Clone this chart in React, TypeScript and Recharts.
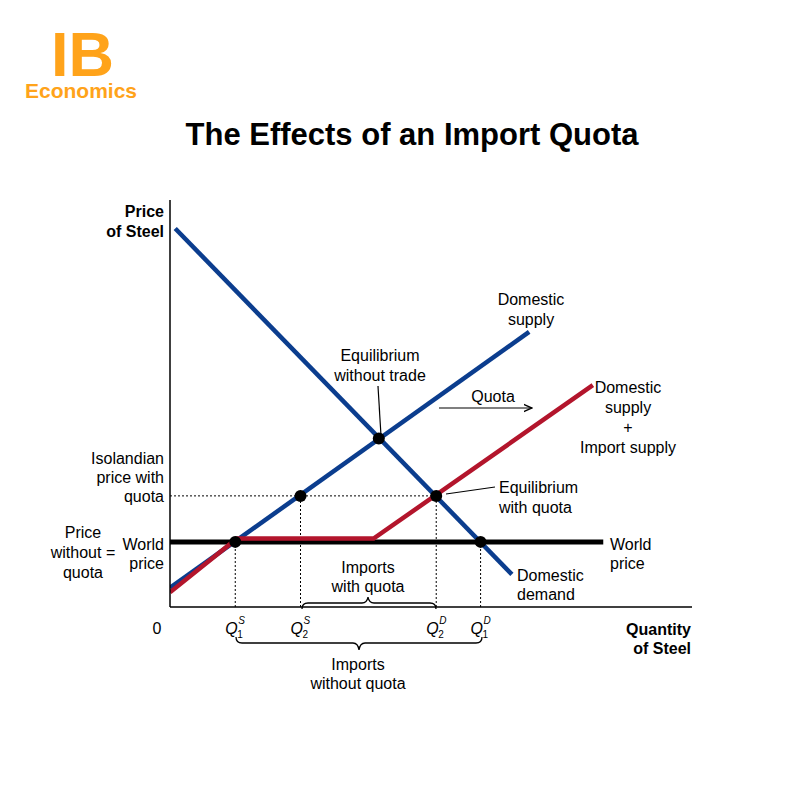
import React from "react";
import {
  ComposedChart,
  Line,
  Scatter,
  XAxis,
  YAxis,
  ReferenceLine,
} from "recharts";

// quantities / prices (0..100 scale on both axes)
const demandQty = [1, 65.5];
const demandPrice = [93, 8];
const supplyQty = [0, 68.8];
const supplyPrice = [4.7, 67.6];
const quotaSupplyQty = [0, 12.8, 39, 81];
const quotaSupplyPrice = [3.6, 16.8, 16.8, 54.5];
const worldLineQty = [0, 83];
const worldPrice = 16;
const quotaPrice = 27.3;

const qTicks = [0, 12.5, 25, 51, 59.5];
const qSubs = ["", "1", "2", "2", "1"];
const qSups = ["", "S", "S", "D", "D"];

const eqQty = [40, 12.5, 25, 51, 59.5];
const eqPrice = [41.4, 16, 27.3, 27.3, 16];

const BLUE = "#0b3d8e";
const RED = "#b3152c";
const ORANGE = "#ffa31a";
const FONT = "'Liberation Sans', Arial, sans-serif";

const toPoints = (qs: number[], ps: number[]) =>
  qs.map((q, i) => ({ q, p: ps[i] }));

const demand = toPoints(demandQty, demandPrice);
const supply = toPoints(supplyQty, supplyPrice);
const quotaSupply = toPoints(quotaSupplyQty, quotaSupplyPrice);
const world = worldLineQty.map((q) => ({ q, p: worldPrice }));
const dots = toPoints(eqQty, eqPrice);

const XTick = (props: any) => {
  const { x, y, index } = props;
  if (index === 0) {
    return (
      <text x={x - 13} y={y + 27} textAnchor="middle" fontSize={16} fontFamily={FONT}>
        0
      </text>
    );
  }
  return (
    <g fontFamily={FONT}>
      <text x={x - 10} y={y + 27} fontSize={16} fontStyle="italic">
        Q
      </text>
      <text x={x + 2} y={y + 31} fontSize={10}>
        {qSubs[index]}
      </text>
      <text x={x + 3} y={y + 17} fontSize={10} fontStyle="italic">
        {qSups[index]}
      </text>
    </g>
  );
};

const YTick = (props: any) => {
  const { x, y, payload } = props;
  const lines =
    payload.value === worldPrice
      ? ["World", "price"]
      : ["Isolandian", "price with", "quota"];
  const start = payload.value === worldPrice ? 8 : -32;
  return (
    <g fontFamily={FONT} fontSize={16}>
      {lines.map((l, i) => (
        <text key={l} x={x} y={y + start + i * 19} textAnchor="end">
          {l}
        </text>
      ))}
      {payload.value === worldPrice &&
        ["Price", "without =", "quota"].map((l, i) => (
          <text key={l} x={x - 81} y={y - 4 + i * 20} textAnchor="middle">
            {l}
          </text>
        ))}
    </g>
  );
};

const Dot = (props: any) => <circle cx={props.cx} cy={props.cy} r={6} fill="#000" />;

function Label({ x, y, lines, anchor = "middle", bold = false, gap = 20 }: any) {
  return (
    <g>
      {lines.map((l: string, i: number) => (
        <text
          key={i}
          x={x}
          y={y + i * gap}
          textAnchor={anchor}
          fontWeight={bold ? "bold" : "normal"}
        >
          {l}
        </text>
      ))}
    </g>
  );
}

export default function App() {
  return (
    <div style={{ position: "absolute", left: 0, top: 0, width: 800, height: 800, background: "#fff" }}>
      <ComposedChart
        width={800}
        height={800}
        margin={{ top: 200, right: 108, bottom: 163, left: 110 }}
      >
        <XAxis
          type="number"
          dataKey="q"
          domain={[0, 100]}
          ticks={qTicks}
          tick={<XTick />}
          tickLine={false}
          tickSize={0}
          tickMargin={0}
          height={30}
          axisLine={{ stroke: "#000", strokeWidth: 1.5 }}
          allowDataOverflow
          interval={0}
        />
        <YAxis
          type="number"
          dataKey="p"
          domain={[0, 100]}
          ticks={[worldPrice, quotaPrice]}
          tick={<YTick />}
          tickLine={false}
          tickSize={0}
          tickMargin={6}
          width={60}
          axisLine={{ stroke: "#000", strokeWidth: 1.5 }}
          allowDataOverflow
          interval={0}
        />
        <ReferenceLine
          segment={[{ x: 0, y: quotaPrice }, { x: 51, y: quotaPrice }]}
          stroke="#000"
          strokeDasharray="2 2"
        />
        {[12.5, 59.5].map((q) => (
          <ReferenceLine
            key={q}
            segment={[{ x: q, y: 0 }, { x: q, y: worldPrice }]}
            stroke="#000"
            strokeDasharray="2 2"
          />
        ))}
        {[25, 51].map((q) => (
          <ReferenceLine
            key={q}
            segment={[{ x: q, y: 0 }, { x: q, y: quotaPrice }]}
            stroke="#000"
            strokeDasharray="2 2"
          />
        ))}
        <Line data={world} dataKey="p" stroke="#000" strokeWidth={5} dot={false} isAnimationActive={false} />
        <Line data={demand} dataKey="p" stroke={BLUE} strokeWidth={4.5} dot={false} isAnimationActive={false} />
        <Line data={supply} dataKey="p" stroke={BLUE} strokeWidth={4.5} dot={false} isAnimationActive={false} />
        <Line data={quotaSupply} dataKey="p" stroke={RED} strokeWidth={4.5} dot={false} isAnimationActive={false} />
        <Scatter data={dots} dataKey="p" shape={<Dot />} isAnimationActive={false} />
      </ComposedChart>

      <svg
        width={800}
        height={800}
        style={{ position: "absolute", left: 0, top: 0, pointerEvents: "none" }}
        fontFamily={FONT}
        fontSize={16}
      >
        <defs>
          <marker id="arr" markerWidth="8" markerHeight="8" refX="7" refY="4" orient="auto">
            <path d="M0,1 L7,4 L0,7" fill="none" stroke="#000" strokeWidth={1.2} />
          </marker>
        </defs>
        <text x={51} y={76} fontSize={63} fontWeight="bold" fill={ORANGE}>IB</text>
        <text x={25} y={98} fontSize={21} fontWeight="bold" fill={ORANGE}>Economics</text>
        <text x={412} y={145} fontSize={31} fontWeight="bold" textAnchor="middle">
          The Effects of an Import Quota
        </text>

        <Label x={164} y={217} lines={["Price", "of Steel"]} anchor="end" bold gap={20} />
        <Label x={691} y={635} lines={["Quantity", "of Steel"]} anchor="end" bold gap={19} />

        <Label x={531} y={305} lines={["Domestic", "supply"]} />
        <Label x={380} y={361} lines={["Equilibrium", "without trade"]} />
        <line x1={378} y1={386} x2={381} y2={436} stroke="#000" strokeWidth={1.2} />
        <text x={493} y={402} textAnchor="middle">Quota</text>
        <line x1={439} y1={408} x2={532} y2={408} stroke="#000" strokeWidth={1.2} markerEnd="url(#arr)" />
        <Label x={628} y={393} lines={["Domestic", "supply", "+", "Import supply"]} />
        <Label x={499} y={493} lines={["Equilibrium", "with quota"]} anchor="start" />
        <line x1={446} y1={494} x2={495} y2={487} stroke="#000" strokeWidth={1.2} />
        <Label x={610} y={550} lines={["World", "price"]} anchor="start" gap={19} />
        <Label x={517} y={581} lines={["Domestic", "demand"]} anchor="start" gap={19} />
        <Label x={368} y={573} lines={["Imports", "with quota"]} gap={19} />
        <path
          d="M302,609 Q302,603 308,603 L362,603 Q367,603 368,597 Q369,603 374,603 L430,603 Q436,603 436,609"
          fill="none"
          stroke="#000"
          strokeWidth={1.3}
        />
        <path
          d="M236,637 Q236,643 242,643 L353,643 Q358,643 359,650 Q360,643 365,643 L476,643 Q482,643 482,637"
          fill="none"
          stroke="#000"
          strokeWidth={1.3}
        />
        <Label x={358} y={670} lines={["Imports", "without quota"]} gap={19} />
      </svg>
    </div>
  );
}
